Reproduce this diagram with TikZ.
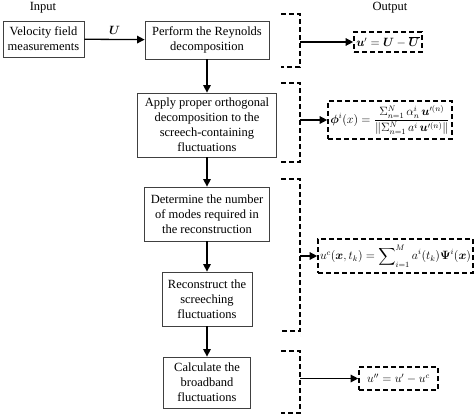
\documentclass[tikz,border=0pt]{standalone}
\usepackage{amsmath}
\usepackage{amssymb}
\usepackage{fontspec}
\setmainfont{Liberation Serif}
\usetikzlibrary{arrows.meta, positioning}
\tikzset{
  procbox/.style={draw=black!75, line width=0.8pt, align=center, inner sep=2pt,
    font=\fontsize{12.5}{15}\selectfont},
  outbox/.style={draw, line width=1.6pt, dash pattern=on 5pt off 3pt, inner sep=2pt,
    font=\fontsize{12}{14}\selectfont},
  flow/.style={line width=1.3pt, -{Triangle[length=7.5pt,width=7.5pt]}},
  bracket/.style={line width=1.6pt, dash pattern=on 5pt off 3pt}
}

\begin{document}
\begin{tikzpicture}[x=1pt, y=-1pt]
  \useasboundingbox (0,0) rectangle (474,415);

  % Column headings
  \node[font=\fontsize{12.5}{15}\selectfont] (inhead) at (43,7.5) {Input};
  \node[font=\fontsize{12.5}{15}\selectfont] (outhead) at (390,7.5) {Output};

  % --- Process chain ---
  \node[procbox, minimum width=81pt, minimum height=36pt] (vel) at (43.5,39) {Velocity field\\measurements};
  \node[procbox, minimum width=124pt, minimum height=38pt] (reyn) at (207,40) {Perform the Reynolds\\decomposition};
  \node[procbox, minimum width=139pt, minimum height=64pt] (pod) at (207,125) {Apply proper orthogonal\\decomposition to the\\screech-containing\\fluctuations};
  \node[procbox, minimum width=125pt, minimum height=54pt] (modes) at (207,214) {Determine the number\\of modes required in\\the reconstruction};
  \node[procbox, minimum width=90pt, minimum height=54pt] (recon) at (207,299) {Reconstruct the\\screeching\\fluctuations};
  \node[procbox, minimum width=87pt, minimum height=51pt] (calc) at (207,382.5) {Calculate the\\broadband\\fluctuations};

  \draw[flow] (vel) -- node[above=1pt, font=\fontsize{12}{14}\selectfont] (ulabel) {$\boldsymbol{U}$} (reyn);
  \draw[flow] (reyn) -- (pod);
  \draw[flow] (pod) -- (modes);
  \draw[flow] (modes) -- (recon);
  \draw[flow] (recon) -- (calc);

  % --- Outputs ---
  \node[outbox, minimum width=68pt, minimum height=20pt] (out1) at (388,42)
    {$\boldsymbol{u}' = \boldsymbol{U} - \overline{\boldsymbol{U}}$};
  \node[outbox, minimum width=124pt, minimum height=38pt] (out2) at (390,120)
    {$\boldsymbol{\phi}^i(x) = \dfrac{\Sigma_{n=1}^{N}\, \alpha_n^i\, \boldsymbol{u}'^{(n)}}{\Vert \Sigma_{n=1}^{N}\, a^i\, \boldsymbol{u}'^{(n)} \Vert}$};
  \node[outbox, minimum width=155pt, minimum height=34pt] (out3) at (395.5,256)
    {$u^c(\boldsymbol{x}, t_k) = \displaystyle\sum\nolimits_{i=1}^{M} a^i(t_k)\boldsymbol{\Psi}^i(\boldsymbol{x})$};
  \node[outbox, minimum width=79pt, minimum height=23pt] (out4) at (398.5,378.5)
    {$u'' = u' - u^c$};

  % Dashed brackets
  \draw[bracket] (281,14) -- (300,14) -- (300,67) -- (281,67);
  \draw[bracket] (281,83) -- (300,83) -- (300,162) -- (281,162);
  \draw[bracket] (281,179) -- (300,179) -- (300,331) -- (281,331);
  \draw[bracket] (281,351) -- (300,351) -- (300,413) -- (281,413);
  \coordinate (br1) at (300,42);
  \coordinate (br2) at (300,120);
  \coordinate (br3) at (300,256);
  \coordinate (br4) at (300,378.5);

  \draw[flow] (br1) -- (out1);
  \draw[flow] (br2) -- (out2);
  \draw[flow] (br3) -- (out3);
  \draw[flow] (br4) -- (out4);
\end{tikzpicture}
\end{document}
